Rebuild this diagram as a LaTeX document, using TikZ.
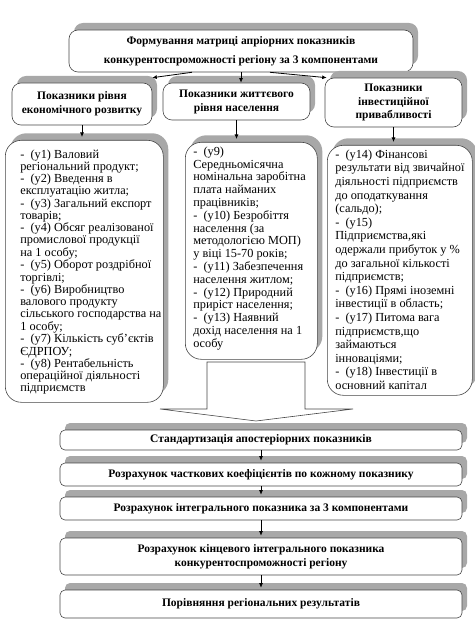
\documentclass[tikz,border=0pt]{standalone}
\usepackage{fontspec}
\setmainfont{Liberation Serif}
\usetikzlibrary{arrows.meta,shadows,calc}
\definecolor{shgray}{RGB}{168,168,168}
\definecolor{edge}{RGB}{70,70,70}
\tikzset{
  box/.style={draw=edge, line width=0.6pt, fill=white, inner sep=0pt,
    drop shadow={shadow xshift=5pt, shadow yshift=7pt, fill=shgray, opacity=1},
    align=center, font=\fontsize{11.5}{14}\selectfont\bfseries},
  headbox/.style={box, rounded corners=9pt},
  listbox/.style={box, rounded corners=16pt, anchor=north west, align=left},
  stepbox/.style={box, rounded corners=5pt, minimum width=402pt},
  conn/.style={-{Latex[length=4.5pt,width=4pt]}, line width=0.8pt, black},
  blockarrow/.style={draw=edge, line width=0.6pt, fill=white}
}
\begin{document}
\begin{tikzpicture}[x=1pt,y=-1pt]
\useasboundingbox (0,0) rectangle (474,620);

% top
\node[headbox, minimum width=344pt, minimum height=42pt,
  font=\fontsize{11.5}{19}\selectfont\bfseries] (T) at (241,51)
  {Формування матриці апріорних показників\\конкурентоспроможності регіону за 3 компонентами};

% level 2
\node[headbox, minimum width=140pt, minimum height=42pt] (A) at (82,104)
  {Показники рівня\\економічного розвитку};
\node[headbox, minimum width=147pt, minimum height=37pt] (B) at (236.5,101.5)
  {Показники життєвого\\рівня населення};
\node[headbox, minimum width=137pt, minimum height=49pt,
  font=\fontsize{11.5}{13.5}\selectfont\bfseries] (C) at (393.5,102.5)
  {Показники\\інвестиційної\\привабливості};

% level 3
\node[listbox, font=\fontsize{12.3}{12.2}\selectfont] (D) at (5,140)
  {\parbox[c][262pt][t]{158pt}{\hspace*{15pt}\begin{tabular}[t]{@{}l@{}}
  \rule{0pt}{18pt}- \ (y1) Валовий\\
  регіональний продукт;\\
  - \ (y2) Введення в\\
  експлуатацію житла;\\
  - \ (y3) Загальний експорт\\
  товарів;\\
  - \ (y4) Обсяг реалізованої\\
  промислової продукції\\
  на 1 особу;\\
  - \ (y5) Оборот роздрібної\\
  торгівлі;\\
  - \ (y6) Виробництво\\
  валового продукту\\
  сільського господарства на\\
  1 особу;\\
  - \ (y7) Кількість суб'єктів\\
  ЄДРПОУ;\\
  - \ (y8) Рентабельність\\
  операційної діяльності\\
  підприємств
  \end{tabular}}};

\node[listbox, font=\fontsize{12.3}{12.8}\selectfont] (E) at (185,142)
  {\parbox[c][217pt][t]{132pt}{\hspace*{8pt}\begin{tabular}[t]{@{}l@{}}
  \rule{0pt}{13pt}- \ (y9)\\
  Середньомісячна\\
  номінальна заробітна\\
  плата найманих\\
  працівників;\\
  - \ (y10) Безробіття\\
  населення (за\\
  методологією МОП)\\
  у віці 15-70 років;\\
  - \ (y11) Забезпечення\\
  населення житлом;\\
  - \ (y12) Природний\\
  приріст населення;\\
  - \ (y13) Наявний\\
  дохід населення на 1\\
  особу
  \end{tabular}}};

\node[listbox, font=\fontsize{12.3}{13.6}\selectfont] (F) at (327,145)
  {\parbox[c][250pt][t]{145pt}{\hspace*{8pt}\begin{tabular}[t]{@{}l@{}}
  \rule{0pt}{13pt}- \ (y14) Фінансові\\
  результати від звичайної\\
  діяльності підприємств\\
  до оподаткування\\
  (сальдо);\\
  - \ (y15)\\
  Підприємства,які\\
  одержали прибуток у \%\\
  до загальної кількості\\
  підприємств;\\
  - \ (y16) Прямі іноземні\\
  інвестиції в область;\\
  - \ (y17) Питома вага\\
  підприємств,що\\
  займаються\\
  інноваціями;\\
  - \ (y18) Інвестиції в\\
  основний капітал
  \end{tabular}}};

% block arrow
\draw[blockarrow] (207,362) -- (207,409) -- (160,409) -- (256,421)
  -- (353,409) -- (305,409) -- (305,362) -- cycle;

% bottom steps
\node[stepbox, minimum height=20pt] (G) at (261,440)
  {Стандартизація апостеріорних показників};
\node[stepbox, minimum height=23pt] (H) at (261,474.5)
  {Розрахунок часткових коефіцієнтів по кожному показнику};
\node[stepbox, minimum height=23pt] (I) at (261,508.5)
  {Розрахунок інтегрального показника за 3 компонентами};
\node[stepbox, minimum height=37pt] (J) at (261,556.5)
  {Розрахунок кінцевого інтегрального показника\\конкурентоспроможності регіону};
\node[stepbox, minimum height=28pt] (K) at (261,604)
  {Порівняння регіональних результатів};

% connectors
\draw[conn] ([xshift=-49pt]T.south) -- ([yshift=5pt]A.north east);
\draw[conn] (T.south) -- (T.south |- B.north);
\draw[conn] ([xshift=29pt]T.south) -- ([xshift=2pt]C.north west);
\draw[conn, shorten >=3pt] (A.south) -- (A.south |- D.north);
\draw[conn, shorten >=3pt] (B.south) -- (B.south |- E.north);
\draw[conn, shorten >=3pt] (C.south) -- (C.south |- F.north);
\draw[conn, shorten >=2pt] (G.south) -- (H.north);
\draw[conn, shorten >=2pt] (H.south) -- (I.north);
\draw[conn, shorten >=2pt] (I.south) -- (J.north);
\draw[conn, shorten >=2pt] (J.south) -- (K.north);
\end{tikzpicture}
\end{document}
